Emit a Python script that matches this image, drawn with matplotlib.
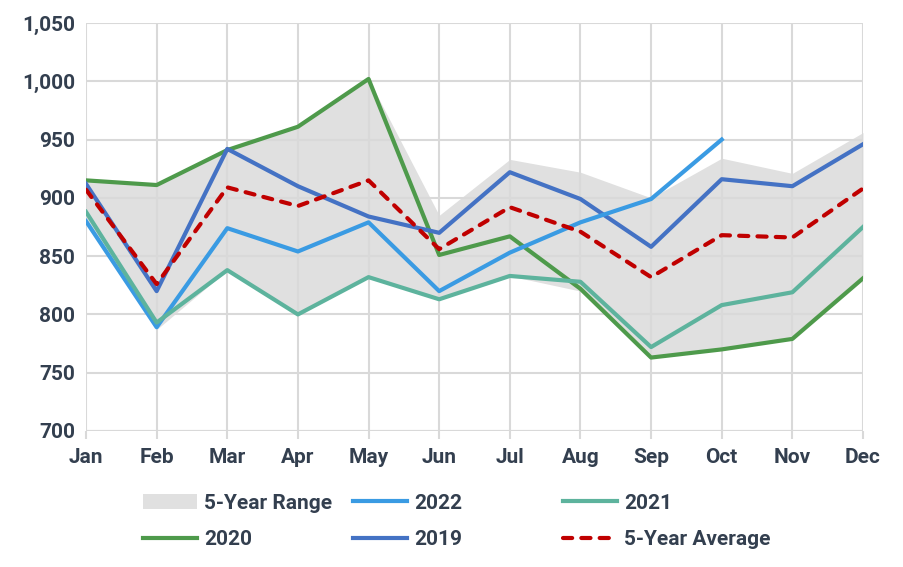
import matplotlib.pyplot as plt

months = ["Jan", "Feb", "Mar", "Apr", "May", "Jun", "Jul", "Aug", "Sep", "Oct", "Nov", "Dec"]

range_hi = [915, 911, 942, 961, 1002, 885, 933, 922, 900, 934, 921, 956]
range_lo = [880, 787, 838, 800, 832, 813, 833, 820, 763, 770, 779, 831]
y2022 = [880, 789, 874, 854, 879, 820, 853, 879, 899, 950]
y2021 = [888, 793, 838, 800, 832, 813, 833, 828, 772, 808, 819, 875]
y2020 = [915, 911, 941, 961, 1002, 851, 867, 822, 763, 770, 779, 831]
y2019 = [912, 820, 942, 910, 884, 870, 922, 899, 858, 916, 910, 946]
avg5 = [907, 826, 909, 893, 915, 856, 892, 871, 832, 868, 866, 908]

plt.rcParams["font.family"] = ["Roboto", "DejaVu Sans"]
plt.rcParams["font.weight"] = "bold"
txt = "#333F4F"

fig = plt.figure(figsize=(9.04, 5.67), dpi=100)
ax = fig.add_axes([86 / 904, 1 - 431 / 567, (863 - 86) / 904, (431 - 23) / 567])

x = list(range(12))
rng = ax.fill_between(x, range_lo, range_hi, color="#E0E0E0", lw=0, label="5-Year Range", zorder=1)
l20, = ax.plot(x, y2020, color="#4E9A4B", lw=3, label="2020", zorder=3)
l19, = ax.plot(x, y2019, color="#4472C4", lw=3, label="2019", zorder=3)
l22, = ax.plot(x[:len(y2022)], y2022, color="#3A9BE3", lw=3, label="2022", zorder=3)
l21, = ax.plot(x, y2021, color="#5DB39D", lw=3, label="2021", zorder=3)
lav, = ax.plot(x, avg5, color="#C00000", lw=3, ls=(0, (2.2, 2.2)), dash_capstyle="round",
               label="5-Year Average", zorder=4)

ax.set_xlim(0, 11)
ax.set_ylim(700, 1050)
ax.set_xticks(x)
ax.set_xticklabels(months)
ax.set_yticks(range(700, 1051, 50))
ax.set_yticklabels([f"{v:,}" for v in range(700, 1051, 50)])
ax.grid(True, color="#D9D9D9", lw=1.5, zorder=2)
for s in ax.spines.values():
    s.set_visible(False)
ax.tick_params(axis="y", length=0, pad=8, labelsize=15, labelcolor=txt)
ax.tick_params(axis="x", length=6, width=1.5, color="#D9D9D9", pad=6, labelsize=15, labelcolor=txt)
ax.axhline(700, color="#D9D9D9", lw=1.5, zorder=2)

# three single-column legends so the columns sit where the reference has them
cols = [([rng, l20], 143), ([l22, l19], 353), ([l21, lav], 563)]
for hs, px in cols:
    leg = fig.legend(handles=hs, loc="center left", bbox_to_anchor=(px / 904, 1 - 521.5 / 567),
                     frameon=False, fontsize=15, handlelength=2.6, handletextpad=0.35,
                     labelspacing=0.85, borderpad=0, borderaxespad=0)
    for t in leg.get_texts():
        t.set_color(txt)

fig.savefig("out.png", dpi=100)
